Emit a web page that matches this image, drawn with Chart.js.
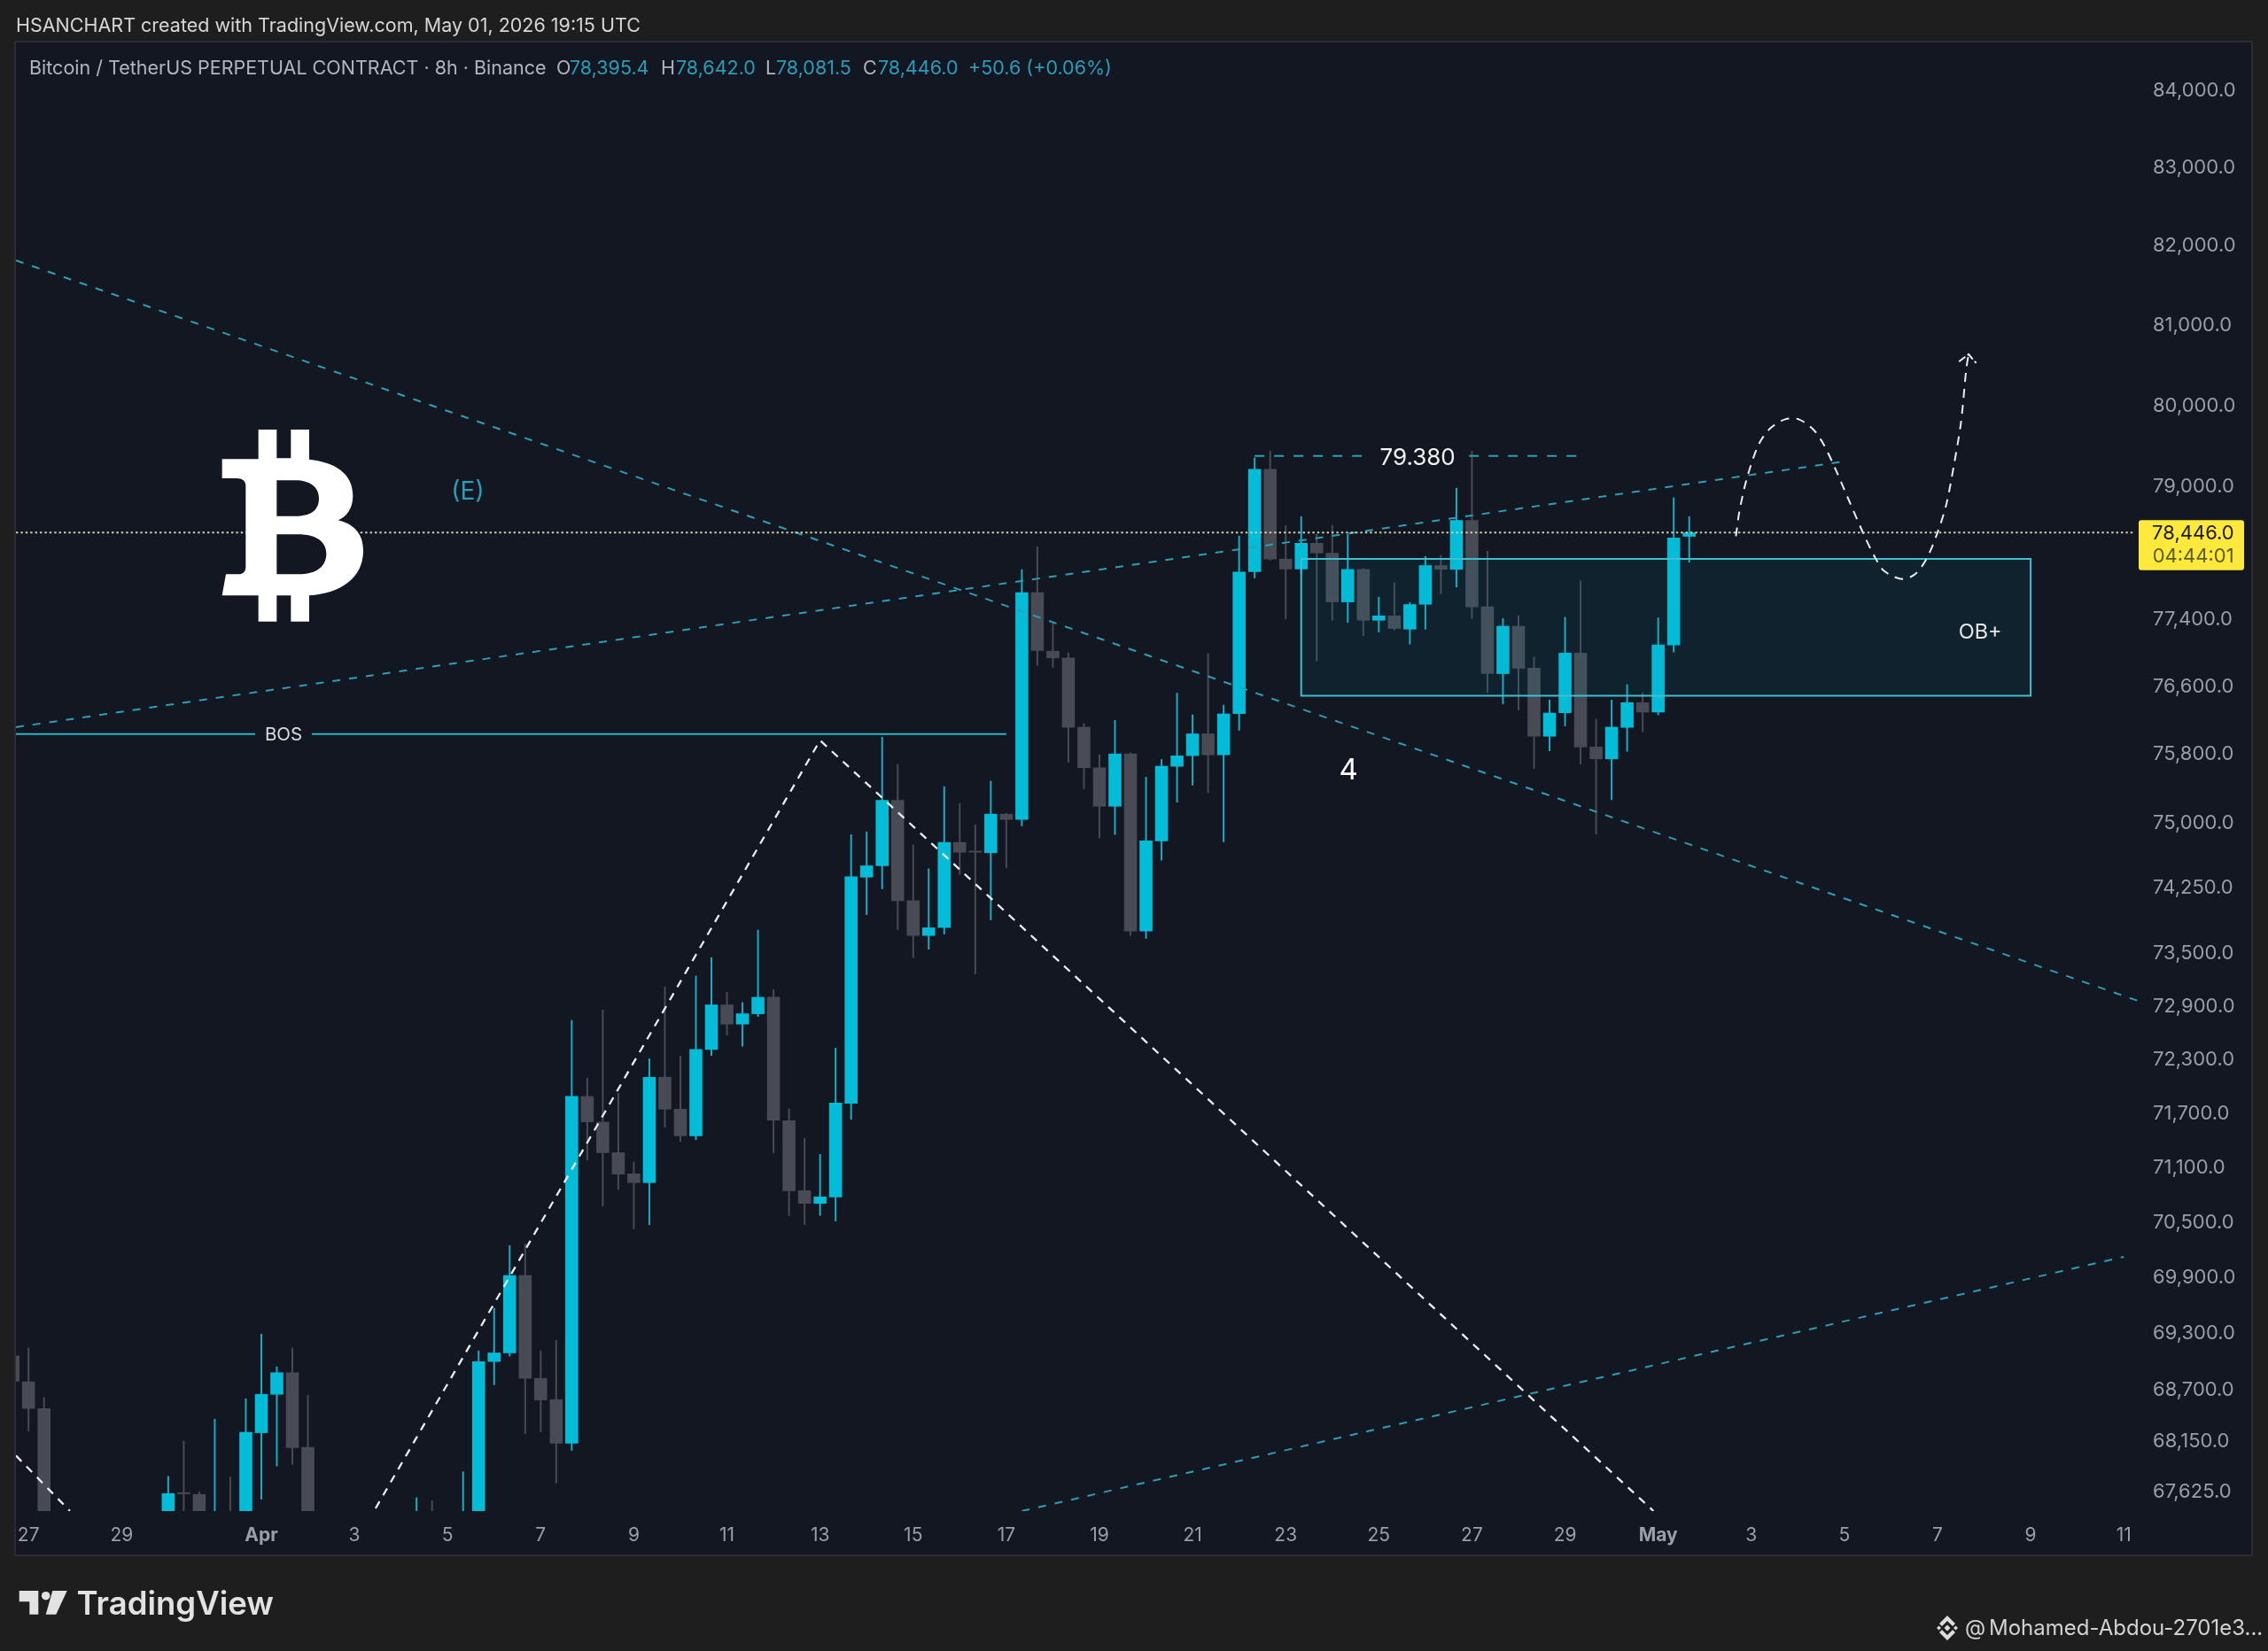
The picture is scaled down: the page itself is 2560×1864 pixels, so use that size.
<!DOCTYPE html>
<html>
<head>
<meta charset="utf-8">
<title>BTC chart</title>
<script src="https://cdn.jsdelivr.net/npm/chart.js@4/dist/chart.umd.min.js"></script>
<style>
html,body{margin:0;padding:0;background:#1e1e1e;width:2560px;height:1864px;overflow:hidden}
#wrap{position:relative;width:2560px;height:1864px}
canvas{position:absolute;left:0;top:0}
.t{position:absolute;white-space:nowrap;font-family:Inter,"Noto Sans",sans-serif;line-height:1}
svg{position:absolute;left:0;top:0;pointer-events:none}
</style>
</head>
<body>
<div id="wrap">
<canvas id="c" width="2560" height="1864"></canvas>
<svg width="2560" height="1864" viewBox="0 0 2560 1864">
  <g transform="translate(200,440) scale(0.33333)">
    <path fill="#ffffff" fill-rule="evenodd" d="M152 235 L275 235 L275 135 L337 135 L337 232 L385 232 L385 135 L447 135 L447 236 C530 245 595 280 595 360 C595 400 575 430 545 442 C600 455 630 490 630 545 C630 640 550 690 447 697 L447 785 L385 785 L385 697 L337 697 L337 785 L275 785 L275 697 L152 697 L165 625 L205 625 C225 625 232 615 232 600 L232 325 C232 310 222 300 200 300 L152 300 Z M337 307 L400 307 C450 307 480 330 480 368 C480 410 450 428 400 428 L337 428 Z M337 490 L410 490 C470 490 505 515 505 555 C505 600 470 625 410 625 L337 625 Z"/>
  </g>
  <g fill="#e2e2e2">
    <path d="M21.7 1796 L43.3 1796 L43.3 1822.7 L33.3 1822.7 L33.3 1808.3 L21.7 1808.3 Z"/>
    <circle cx="51.7" cy="1801.7" r="4.8"/>
    <path d="M59.3 1796 L75.7 1796 L63.3 1822.7 L51.7 1822.7 Z"/>
  </g>
  <g fill="#dcdcdc">
    <path d="M2198 1824 L2207 1833 L2204 1836 L2198 1830 L2192 1836 L2189 1833 Z"/>
    <path d="M2198 1852 L2207 1843 L2204 1840 L2198 1846 L2192 1840 L2189 1843 Z"/>
    <path d="M2198 1834.5 L2201.5 1838 L2198 1841.5 L2194.5 1838 Z"/>
    <path d="M2188.5 1835.5 L2191 1838 L2188.5 1840.5 L2186 1838 Z"/>
    <path d="M2207.5 1835.5 L2210 1838 L2207.5 1840.5 L2205 1838 Z"/>
  </g>
</svg>
<div class="t" style="left:18px;top:18px;font-size:21.5px;color:#d6d6d6">HSANCHART created with TradingView.com, May 01, 2026 19:15 UTC</div>
<div class="t" style="left:33px;top:66px;font-size:21.5px;color:#b2b5be">Bitcoin / TetherUS PERPETUAL CONTRACT · 8h · Binance</div>
<div class="t" style="left:628px;top:66px;font-size:21.5px;color:#b2b5be">O</div>
<div class="t" style="left:643px;top:66px;font-size:21.5px;color:#2a9db8">78,395.4</div>
<div class="t" style="left:746px;top:66px;font-size:21.5px;color:#b2b5be">H</div>
<div class="t" style="left:763px;top:66px;font-size:21.5px;color:#2a9db8">78,642.0</div>
<div class="t" style="left:864px;top:66px;font-size:21.5px;color:#b2b5be">L</div>
<div class="t" style="left:876px;top:66px;font-size:21.5px;color:#2a9db8">78,081.5</div>
<div class="t" style="left:974px;top:66px;font-size:21.5px;color:#b2b5be">C</div>
<div class="t" style="left:991px;top:66px;font-size:21.5px;color:#2a9db8">78,446.0</div>
<div class="t" style="left:1093px;top:66px;font-size:21.5px;color:#2a9db8">+50.6 (+0.06%)</div>
<div class="t" style="left:86.5px;top:1792px;font-size:36.5px;font-weight:600;color:#e2e2e2">TradingView</div>
<div class="t" style="left:2218px;top:1826px;font-size:24px;color:#d2d2d2">@</div>
<div class="t" style="left:2245px;top:1826px;font-size:24px;color:#d2d2d2">Mohamed-Abdou-2701e3...</div>
</div>
<script>
// Candles: first value is the 8h bar 16 bars before Apr 1 00:00 UTC
const firstBar = -16;
const opens = [
 69065,68789,68505,null,null,null,null,null,null,null,
 67300,67613,67601,67200,67350,67300,
 68243,68650,68886,68094,null,null,null,null,null,null,67200,67350,null,67200,
 67300,68999,69091,69929,68826,68600,68132,71894,71609,71271,
 71038,70935,72108,71753,71451,72412,72920,72697,72813,73006,
 71625,70854,70708,70779,71812,74369,74500,75265,74105,73700,
 73791,74776,74667,74650,75104,75036,77722,77022,76941,76122,
 75645,75189,75807,73751,74787,75655,75780,76043,75790,76275,
 77967,79219,78127,78000,78319,78199,77604,78002,77384,77444,
 77278,77576,78049,77996,78596,77552,76748,77320,76819,76008,
 76285,76998,75888,75742,76112,76411,76292,77089,78395.4];
const highs = [
 69065,69150,68622,null,null,null,null,null,null,null,
 67790,68162,67629,68392,67781,68609,
 69298,68949,69150,68647,null,null,null,null,null,null,67567,67536,null,67837,
 69119,69578,70254,70273,69119,69232,72744,72098,72863,71930,
 71168,72315,73122,72345,73245,73454,73063,72946,73768,73093,
 71756,71429,71252,72434,74865,74899,76005,75683,74745,74472,
 75424,75230,74981,75489,75114,78000,78277,77370,77001,76164,
 75797,76202,75820,75535,75742,76524,76267,76994,76382,78405,
 79360,79444,78534,78642,78426,78537,78426,78013,77668,77842,
 77604,78159,78173,78989,79444,78223,77412,77444,76951,76442,
 77426,77864,76216,76442,76625,76524,77420,78873,78642];
const lows = [
 68789,68262,67200,null,null,null,null,null,null,null,
 67200,67300,67200,67100,67100,67200,
 67545,67892,67908,67200,null,null,null,null,null,null,67100,67100,null,67100,
 67200,68751,69056,68232,68253,67713,68057,71184,70680,70864,
 70430,70476,71547,71389,71409,72345,72574,72448,72783,71265,
 70573,70476,70576,70515,71635,73940,74234,73768,73447,73545,
 73717,74400,73262,73879,74479,74961,76846,76822,75704,75392,
 74820,74861,73700,73667,74564,75237,75434,75348,74776,76078,
 77892,78106,77402,77946,76899,77384,77359,77201,77243,77268,
 77099,77278,77700,77783,77405,76524,76390,76316,75628,75836,
 76129,75680,74865,75265,75831,76060,76261,77004,78081.5];
const closes = [
 68789,68499,67300,null,null,null,null,null,null,null,
 67610,67601,67300,67350,67200,68253,
 68656,68886,68085,67300,null,null,null,null,null,null,67350,67200,null,67350,
 69003,69097,69929,68820,68590,68132,71894,71606,71265,71029,
 70935,72108,71746,71451,72418,72920,72697,72820,73006,71625,
 70847,70708,70786,71822,74380,74506,75265,74099,73700,73795,
 74776,74656,74656,75104,75036,77722,77022,76935,76112,75638,
 75189,75807,73751,74794,75662,75784,76043,75790,76278,77970,
 79219,78120,78000,78319,78194,77604,78002,77384,77444,77286,
 77580,78049,77996,78596,77544,76748,77320,76811,76008,76288,
 76998,75880,75742,76122,76411,76292,77096,78383,78446];

// Axis labels
const priceTicks = [84000,83000,82000,81000,80000,79000,77400,76600,75800,75000,74250,73500,72900,72300,71700,71100,70500,69900,69300,68700,68150,67625];
const timeTickBars = [-15,-9,0,6,12,18,24,30,36,42,48,54,60,66,72,78,84,90,96,102,108,114,120];
const timeTickLabels = ['27','29','Apr','3','5','7','9','11','13','15','17','19','21','23','25','27','29','May','3','5','7','9','11'];

// Drawings (bar position, price)
const wedgeTopX = [-15.81,120.9],  wedgeTopY = [81819,72963];
const wedgeMidX = [-15.81,102.0],  wedgeMidY = [76119,79314];
const wedgeLowX = [49,120],        wedgeLowY = [67424,70129];
const bosX = [-15.81,48],          bosY = [76036,76036];
const highX = [64,85],             highY = [79380,79380];
const zigX = [7.36,36.0,89.7],     zigY = [67452,75963,67424];
const zigPrevX = [-15.81,-12.33],  zigPrevY = [68005,67424];
const pathX = [95.01,95.24,95.72,96.48,97.24,98.19,99.05,100.0,100.66,101.43,102.37,103.33,103.99,104.57,105.71,106.57,107.32,107.99,108.56,109.04,109.51,109.85,110.0];
const pathY = [78401,78710,79108,79523,79723,79832,79832,79705,79523,79216,78801,78387,78138,77978,77882,77943,78138,78440,78783,79252,79794,80455,80639];
const arrowX = [109.38,110,110.49], arrowY = [80548,80639,80529];
const boxX = [67,114,114,67,67],   boxY = [78127,78127,76488,76488,78127];
const lastPrice = 78446;
const lastX = [-15.81,120.7];
const countdown = '04:44:01';

// Text notes on the chart
const noteText  = ['BOS','79.380','4','(E)','OB+'];
const noteBar   = [1.43,74.5,70.05,13.3,110.75];
const notePrice = [76026,79350,75605,78935,77243];

const UP='#03bcd8', DOWN='#484a54', UPW='#1dabc4', TEAL='#2a9fb6', WHITE='#e9eef0', PANEL='#121722';

const wicks=[], bodies=[], wickCol=[], bodyCol=[];
opens.forEach((o,k)=>{
  if(o===null) return;
  const x=firstBar+k, up=closes[k]>=o;
  wicks.push({x,y:[lows[k],highs[k]]}); wickCol.push(up?UPW:DOWN);
  bodies.push({x,y:[o,closes[k]]}); bodyCol.push(up?UP:DOWN);
});
const pts=(xs,ys)=>xs.map((x,i)=>({x,y:ys[i]}));
const line=(xs,ys,color,width,dash,extra)=>Object.assign({type:'line',data:pts(xs,ys),borderColor:color,borderWidth:width,borderDash:dash,pointRadius:0,tension:0,fill:false,order:2,borderCapStyle:'butt'},extra||{});

const backdrop={id:'backdrop',beforeDraw(ch){
  const c=ch.ctx;
  c.save();
  c.fillStyle='#1e1e1e'; c.fillRect(0,0,2560,1864);
  c.fillStyle=PANEL; c.fillRect(18,48,2523,1707);
  c.strokeStyle='#2a2c31'; c.lineWidth=2; c.strokeRect(17,47,2525,1709);
  c.restore();
}};
const notes={id:'notes',afterDatasetsDraw(ch){
  const c=ch.ctx,xs=ch.scales.x,ys=ch.scales.y;
  const styles=[
    {f:'20.5px Inter',col:'#dcdcdc',bg:64,dy:-1},
    {f:'26px Inter',col:'#f2f2f2',bg:106,dy:-3},
    {f:'33px Inter',col:'#ffffff',bg:0,dy:0},
    {f:'28px Inter',col:'#2a9db8',bg:0,dy:0},
    {f:'23.5px Inter',col:'#e6e6e6',bg:0,dy:0}];
  c.save();
  c.textAlign='center'; c.textBaseline='middle';
  noteText.forEach((t,i)=>{
    const x=xs.getPixelForValue(noteBar[i]),y=ys.getPixelForValue(notePrice[i]),s=styles[i];
    if(s.bg){c.fillStyle=PANEL;c.fillRect(x-s.bg/2,y+s.dy-6,s.bg,12);}
    c.font=s.f;c.fillStyle=s.col;c.fillText(t,x,y);
  });
  // last price tag
  const y=ys.getPixelForValue(lastPrice);
  c.fillStyle='#ffe93d';
  c.beginPath();c.roundRect(2414,y-14,119,56.5,3);c.fill();
  c.textAlign='right';
  c.font='22px Inter';c.fillStyle='#1a1a14';
  c.fillText(lastPrice.toLocaleString('en-US',{minimumFractionDigits:1}),2521.7,y+1);
  c.fillStyle='#5e5a1e';c.fillText(countdown,2521.7,y+27);
  c.restore();
}};

new Chart(document.getElementById('c'),{
  type:'bar',
  plugins:[backdrop,notes],
  data:{datasets:[
    {data:wicks,backgroundColor:wickCol,barThickness:2,grouped:false,order:10,inflateAmount:0,minBarLength:1},
    {data:bodies,backgroundColor:bodyCol,barThickness:14.6,grouped:false,order:9,inflateAmount:0,minBarLength:2},
    line(boxX,boxY,'#3cc0d2',2,[],{fill:'shape',backgroundColor:'rgba(10,170,200,0.08)',order:5}),
    line(wedgeTopX,wedgeTopY,TEAL,2,[9,10]),
    line(wedgeMidX,wedgeMidY,TEAL,2,[9,10]),
    line(wedgeLowX,wedgeLowY,TEAL,2,[9,10]),
    line(bosX,bosY,'#2ab4c8',2,[]),
    line(highX,highY,TEAL,2,[11,11]),
    line(zigX,zigY,WHITE,2.3,[9,8]),
    line(zigPrevX,zigPrevY,WHITE,2.3,[9,8]),
    line(pathX,pathY,WHITE,2,[10,8],{tension:0.3}),
    line(arrowX,arrowY,WHITE,2,[9,3]),
    line(lastX,[lastPrice,lastPrice],'#d2d2a6',2,[2.4,3],{order:1})
  ]},
  options:{
    responsive:false,animation:false,devicePixelRatio:1,
    layout:{padding:{left:18,top:48,right:19,bottom:109}},
    plugins:{legend:{display:false},tooltip:{enabled:false},title:{display:false}},
    scales:{
      x:{type:'linear',offset:false,min:-15.81,max:120.9,
        grid:{display:false,drawTicks:false},border:{display:false},
        afterBuildTicks(s){s.ticks=timeTickBars.map(v=>({value:v}));},
        afterFit(s){s.height=49;},
        ticks:{autoSkip:false,maxRotation:0,padding:15,color:'#9a9ea8',
          font(ctx){const l=ctx.tick?timeTickLabels[timeTickBars.indexOf(ctx.tick.value)]:'';
            return {family:'Inter',size:21,weight:(l==='Apr'||l==='May')?'700':'400'};},
          callback(v){const i=timeTickBars.indexOf(v);return i<0?'':timeTickLabels[i];}}
      },
      y:{type:'logarithmic',position:'right',min:67424,max:84624,
        grid:{display:false,drawTicks:false},border:{display:false},
        afterBuildTicks(s){s.ticks=priceTicks.map(v=>({value:v}));},
        afterFit(s){s.width=128;},
        ticks:{autoSkip:false,padding:17,crossAlign:'near',color:'#9a9ea8',
          font:{family:'Inter',size:22},
          callback(v){return Number(v).toLocaleString('en-US',{minimumFractionDigits:1});}}
      }
    }
  }
});
</script>
</body>
</html>
